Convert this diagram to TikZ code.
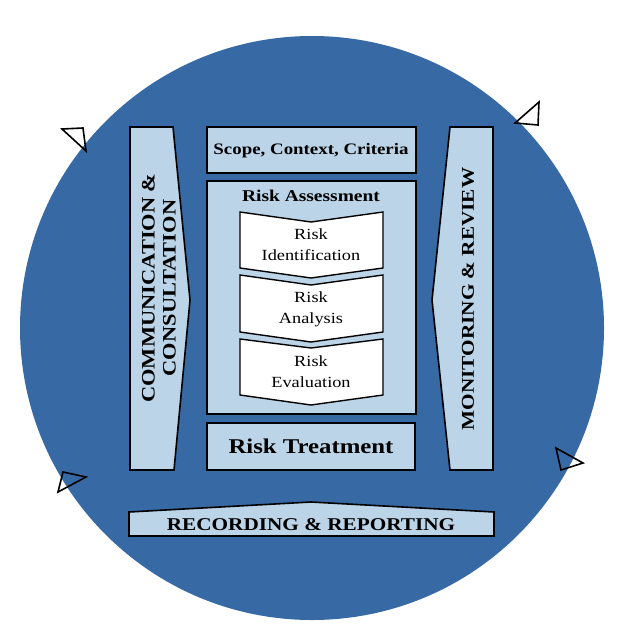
\documentclass[tikz,border=0pt]{standalone}
\usepackage{fontspec}
\setmainfont[FakeStretch=1.18]{Liberation Serif}
\begin{document}
\begin{tikzpicture}[x=1pt,y=-1pt,
  box/.style={fill=lb,draw=black,line width=1.6pt,line join=miter},
  wbox/.style={fill=white,draw=black,line width=1.4pt},
  tri/.style={draw=black,line width=1.6pt,line join=miter},
  lbl/.style={font=\bfseries,align=center,inner sep=0pt}]
\definecolor{bl}{HTML}{376AA4}
\definecolor{lb}{HTML}{BCD4E7}
\useasboundingbox (0,0) rectangle (628,626);
\fill[bl] (312,328) circle (292);
% triangles
\draw[tri] (62,129) -- (83,128) -- (86,151) -- cycle;
\draw[tri] (515,123) -- (539,102) -- (538,125) -- cycle;
\draw[tri] (58,492) -- (63,472) -- (86,477) -- cycle;
\draw[tri] (556,448) -- (583,463) -- (561,470) -- cycle;
% side chevrons
\draw[box] (130,127) -- (173,127) -- (190,300) -- (174,470) -- (130,470) -- cycle;
\draw[box] (493,127) -- (450,127) -- (432,300) -- (450,470) -- (493,470) -- cycle;
\draw[box] (129,512) -- (311,502) -- (494,512) -- (494,536) -- (129,536) -- cycle;
\node[lbl,rotate=90,font=\bfseries\fontsize{19}{19}\selectfont] (cc) at (159,288) {COMMUNICATION \&\\[2pt]CONSULTATION};
\node[lbl,rotate=90,font=\bfseries\fontsize{18}{18}\selectfont] (mr) at (468,299) {MONITORING \& REVIEW};
\node[lbl,font=\bfseries\fontsize{18}{18}\selectfont] (rr) at (311,525) {RECORDING \& REPORTING};
% centre
\draw[box] (207,127) rectangle (416,173);
\node[lbl,font=\bfseries\fontsize{16}{16}\selectfont] (sc) at (311,151) {Scope, Context, Criteria};
\draw[box] (207,181) rectangle (416,414);
\node[lbl,font=\bfseries\fontsize{16.5}{16.5}\selectfont] (ra) at (311,196) {Risk Assessment};
\draw[box] (207,423) rectangle (415,470);
\node[lbl,font=\bfseries\fontsize{21}{21}\selectfont] (rt) at (311,446) {Risk Treatment};
\draw[wbox] (240,212) -- (311,222) -- (383,212) -- (383,268) -- (311,278) -- (240,268) -- cycle;
\draw[wbox] (240,275) -- (311,285) -- (383,275) -- (383,332) -- (311,342) -- (240,332) -- cycle;
\draw[wbox] (240,339) -- (311,348) -- (383,339) -- (383,395) -- (311,405) -- (240,395) -- cycle;
\node[lbl,font=\fontsize{15.5}{21}\selectfont] (ri) at (311,245) {Risk\\Identification};
\node[lbl,font=\fontsize{15.5}{21}\selectfont] (ran) at (311,309) {Risk\\Analysis};
\node[lbl,font=\fontsize{15.5}{21}\selectfont] (re) at (311,372) {Risk\\Evaluation};
\end{tikzpicture}
\end{document}
